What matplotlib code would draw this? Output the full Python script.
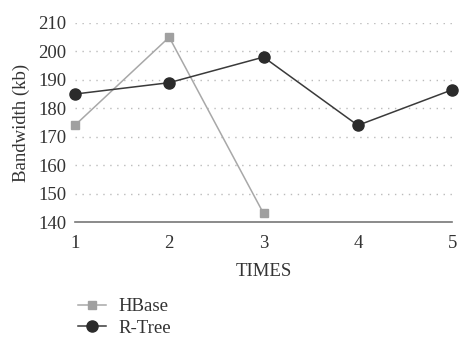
import matplotlib
matplotlib.use("Agg")
import matplotlib.pyplot as plt

times = [1, 2, 3, 4, 5]
hbase_times = [1, 2, 3]
hbase_bw = [174, 205, 143]
rtree_bw = [185, 189, 198, 174, 186.5]
y_ticks = [140, 150, 160, 170, 180, 190, 200, 210]

plt.rcParams['font.family'] = ['Liberation Serif', 'DejaVu Serif']

fig = plt.figure(figsize=(4.74, 3.48), dpi=100)
ax = fig.add_axes([0.158, 0.362, 0.796, 0.572])

for yv in y_ticks[1:]:
    ax.axhline(yv, color='#bbbbbb', lw=1.0, ls=(0, (1, 4)), zorder=0)

ax.plot(hbase_times, hbase_bw, color='#a8a8a8', lw=1.1, marker='s',
        markersize=6, markerfacecolor='#a0a0a0', markeredgecolor='#a0a0a0',
        label='HBase', zorder=3, clip_on=False)
ax.plot(times, rtree_bw, color='#3a3a3a', lw=1.1, marker='o',
        markersize=8, markerfacecolor='#2b2b2b', markeredgecolor='#2b2b2b',
        label='R-Tree', zorder=4, clip_on=False)

ax.set_xlim(1, 5)
ax.set_ylim(140, 210)
ax.set_xticks(times)
ax.set_yticks(y_ticks)
for s in ['top', 'right', 'left']:
    ax.spines[s].set_visible(False)
ax.spines['bottom'].set_color('#777777')
ax.spines['bottom'].set_linewidth(1.2)
ax.spines['bottom'].set_zorder(1)
ax.tick_params(length=0, labelsize=13.5, colors='#333333', pad=9)
ax.tick_params(axis='y', pad=6)

ax.set_xlabel('TIMES', fontsize=13.5, color='#333333', labelpad=8)
ax.set_ylabel('Bandwidth (kb)', fontsize=13.5, color='#333333', labelpad=6)

leg = fig.legend(loc='upper left', bbox_to_anchor=(0.148, 0.165), frameon=False,
                 fontsize=13.5, handlelength=1.5, handletextpad=0.7,
                 labelspacing=0.25, borderaxespad=0)
for t in leg.get_texts():
    t.set_color('#333333')

fig.savefig('out.png', dpi=100)
